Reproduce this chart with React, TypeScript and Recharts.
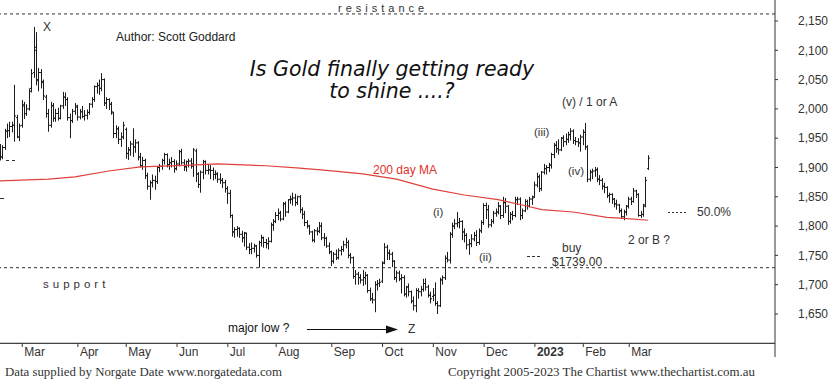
import { Bar, ComposedChart, Line, ReferenceLine, XAxis, YAxis } from 'recharts'

type Ohlc = [number, number, number, number] // open, high, low, close

// daily bars
const feb22: Ohlc[] = [
  [1935, 1940, 1912, 1918], [1918, 1938, 1914, 1934], [1934, 1966, 1930, 1962], [1962, 1975, 1950, 1963],
  [1963, 1978, 1952, 1970], [1970, 1978, 1960, 1972], [1972, 2041, 1944, 1988], [1985, 1990, 1950, 1952],
  [1952, 1975, 1945, 1971],
]
const mar22: Ohlc[] = [
  [1972, 2015, 1968, 2007], [2005, 2012, 1983, 1992], [1992, 2008, 1988, 2000], [2000, 2035, 1997, 2030],
  [2035, 2068, 2028, 2060], [2062, 2140, 2053, 2105], [2100, 2131, 2040, 2050], [2048, 2070, 2030, 2062],
  [2062, 2068, 2035, 2047], [2045, 2050, 2015, 2022], [2020, 2024, 1985, 1992], [1992, 2000, 1961, 1972],
  [1972, 2012, 1968, 2006], [2005, 2010, 1978, 1984], [1984, 2000, 1978, 1992], [1992, 2002, 1980, 1984],
  [1984, 2007, 1982, 2005], [2005, 2029, 2000, 2020], [2020, 2028, 2005, 2016], [2016, 2020, 1980, 1985],
  [1985, 1992, 1950, 1980], [1980, 2000, 1976, 1996], [1996, 2010, 1990, 2005],
]
const apr22: Ohlc[] = [
  [2003, 2007, 1980, 1986], [1986, 2000, 1982, 1995], [1995, 2005, 1984, 1987], [1987, 1998, 1980, 1989],
  [1989, 1999, 1982, 1994], [1994, 2010, 1990, 2008], [2008, 2020, 2002, 2016], [2016, 2040, 2012, 2038],
  [2038, 2045, 2026, 2040], [2040, 2050, 2024, 2035], [2035, 2061, 2030, 2050], [2050, 2052, 2005, 2010],
  [2010, 2020, 2000, 2016], [2016, 2018, 1998, 2008], [2008, 2012, 1990, 1995], [1993, 1995, 1950, 1958],
  [1958, 1972, 1950, 1966], [1966, 1970, 1940, 1948], [1948, 1960, 1935, 1952], [1952, 1978, 1948, 1972],
]
const may22: Ohlc[] = [
  [1965, 1968, 1915, 1924], [1924, 1935, 1913, 1930], [1930, 1945, 1920, 1940], [1940, 1967, 1918, 1935],
  [1935, 1948, 1925, 1942], [1942, 1945, 1912, 1918], [1918, 1925, 1900, 1903], [1903, 1918, 1896, 1912],
  [1912, 1915, 1880, 1886], [1886, 1891, 1862, 1868], [1868, 1878, 1845, 1874], [1874, 1888, 1866, 1878],
  [1878, 1886, 1862, 1876], [1876, 1902, 1872, 1900], [1900, 1906, 1892, 1902], [1902, 1915, 1896, 1912],
  [1912, 1925, 1905, 1922], [1922, 1924, 1900, 1905], [1905, 1915, 1896, 1908], [1908, 1918, 1900, 1910],
  [1910, 1914, 1891, 1898],
]
const jun22: Ohlc[] = [
  [1898, 1912, 1895, 1906], [1906, 1930, 1902, 1927], [1927, 1932, 1905, 1908], [1908, 1914, 1894, 1901],
  [1901, 1912, 1893, 1910], [1910, 1915, 1900, 1911], [1911, 1916, 1898, 1906], [1902, 1933, 1884, 1930],
  [1928, 1932, 1875, 1889], [1889, 1892, 1865, 1871], [1871, 1895, 1857, 1892], [1892, 1913, 1880, 1910],
  [1910, 1912, 1888, 1895], [1895, 1905, 1888, 1896], [1896, 1904, 1880, 1895], [1895, 1900, 1878, 1888],
  [1888, 1895, 1880, 1889], [1889, 1892, 1874, 1880], [1880, 1890, 1872, 1878], [1878, 1882, 1865, 1874],
  [1874, 1879, 1857, 1864],
]
const jul22: Ohlc[] = [
  [1864, 1868, 1838, 1856], [1856, 1862, 1814, 1818], [1818, 1820, 1782, 1790], [1790, 1798, 1780, 1794],
  [1794, 1800, 1782, 1796], [1796, 1798, 1780, 1786], [1786, 1792, 1772, 1780], [1780, 1790, 1765, 1788],
  [1788, 1789, 1759, 1764], [1764, 1771, 1752, 1760], [1760, 1772, 1752, 1762], [1762, 1770, 1755, 1766],
  [1766, 1768, 1746, 1750], [1750, 1775, 1729, 1772], [1772, 1785, 1765, 1780], [1780, 1782, 1763, 1772],
  [1772, 1778, 1762, 1770], [1770, 1781, 1760, 1774], [1774, 1806, 1772, 1802], [1802, 1812, 1792, 1808],
]
const aug22: Ohlc[] = [
  [1808, 1824, 1805, 1818], [1818, 1830, 1810, 1822], [1822, 1826, 1808, 1812], [1812, 1841, 1810, 1838],
  [1838, 1842, 1816, 1824], [1824, 1846, 1822, 1845], [1845, 1852, 1838, 1846], [1846, 1857, 1835, 1848],
  [1848, 1855, 1834, 1840], [1840, 1852, 1836, 1850], [1850, 1853, 1822, 1828], [1828, 1832, 1812, 1820],
  [1820, 1826, 1800, 1806], [1806, 1810, 1796, 1800], [1800, 1802, 1785, 1790], [1790, 1792, 1773, 1776],
  [1776, 1795, 1772, 1792], [1792, 1798, 1784, 1791], [1791, 1807, 1788, 1800], [1800, 1806, 1776, 1780],
  [1780, 1788, 1766, 1779], [1779, 1782, 1763, 1766], [1766, 1772, 1752, 1756],
]
const sep22: Ohlc[] = [
  [1756, 1758, 1732, 1740], [1740, 1756, 1736, 1752], [1752, 1760, 1742, 1746], [1746, 1762, 1743, 1758],
  [1758, 1766, 1750, 1760], [1760, 1775, 1756, 1768], [1768, 1780, 1762, 1772], [1772, 1776, 1745, 1750],
  [1750, 1754, 1736, 1746], [1746, 1748, 1710, 1714], [1714, 1725, 1700, 1718], [1718, 1722, 1700, 1712],
  [1712, 1718, 1702, 1708], [1708, 1725, 1698, 1712], [1712, 1722, 1700, 1716], [1716, 1718, 1686, 1690],
  [1690, 1695, 1672, 1676], [1676, 1686, 1668, 1674], [1674, 1706, 1653, 1700], [1700, 1708, 1690, 1702],
  [1702, 1710, 1696, 1704],
]
const oct22: Ohlc[] = [
  [1706, 1740, 1703, 1737], [1737, 1771, 1735, 1764], [1764, 1768, 1742, 1754], [1754, 1760, 1742, 1752],
  [1752, 1756, 1730, 1740], [1740, 1742, 1708, 1712], [1712, 1724, 1704, 1720], [1720, 1724, 1706, 1710],
  [1710, 1718, 1685, 1712], [1712, 1716, 1680, 1684], [1684, 1698, 1678, 1696], [1696, 1702, 1680, 1688],
  [1688, 1690, 1668, 1672], [1672, 1680, 1656, 1664], [1664, 1694, 1653, 1690], [1690, 1694, 1676, 1688],
  [1688, 1698, 1680, 1692], [1692, 1710, 1688, 1702], [1702, 1711, 1690, 1696], [1696, 1700, 1678, 1682],
  [1682, 1688, 1668, 1676],
]
const nov22: Ohlc[] = [
  [1680, 1694, 1672, 1682], [1682, 1704, 1664, 1668], [1668, 1672, 1650, 1664], [1664, 1712, 1662, 1708],
  [1708, 1716, 1700, 1712], [1712, 1750, 1708, 1745], [1745, 1756, 1738, 1742], [1742, 1790, 1736, 1786],
  [1786, 1806, 1780, 1800], [1800, 1812, 1795, 1804], [1804, 1824, 1798, 1806], [1806, 1814, 1796, 1808],
  [1808, 1810, 1776, 1790], [1790, 1796, 1772, 1784], [1784, 1788, 1760, 1768], [1768, 1778, 1751, 1770],
  [1770, 1786, 1764, 1778], [1778, 1790, 1774, 1784], [1784, 1793, 1766, 1772], [1772, 1796, 1768, 1792],
  [1792, 1810, 1788, 1806],
]
const dec22: Ohlc[] = [
  [1806, 1839, 1802, 1835], [1835, 1840, 1812, 1828], [1828, 1836, 1797, 1802], [1802, 1812, 1798, 1808],
  [1808, 1826, 1804, 1822], [1822, 1830, 1816, 1824], [1824, 1841, 1820, 1834], [1834, 1836, 1812, 1818],
  [1818, 1850, 1814, 1840], [1840, 1848, 1822, 1834], [1834, 1836, 1802, 1808], [1808, 1824, 1804, 1820],
  [1820, 1826, 1810, 1818], [1818, 1850, 1815, 1845], [1845, 1850, 1836, 1846], [1846, 1849, 1810, 1818],
  [1818, 1830, 1812, 1826], [1826, 1846, 1824, 1842], [1842, 1845, 1828, 1834], [1834, 1850, 1832, 1846],
  [1846, 1852, 1836, 1848],
]
const jan23: Ohlc[] = [
  [1850, 1876, 1848, 1870], [1870, 1891, 1866, 1884], [1884, 1888, 1858, 1864], [1864, 1894, 1860, 1892],
  [1892, 1906, 1888, 1898], [1898, 1904, 1888, 1900], [1900, 1908, 1892, 1904], [1904, 1925, 1898, 1922],
  [1922, 1942, 1916, 1938], [1938, 1945, 1925, 1932], [1932, 1948, 1922, 1930], [1930, 1952, 1928, 1950],
  [1950, 1955, 1935, 1944], [1944, 1958, 1938, 1948], [1948, 1961, 1942, 1956], [1956, 1967, 1946, 1962],
  [1962, 1965, 1940, 1946], [1946, 1952, 1938, 1944], [1944, 1950, 1935, 1942], [1942, 1956, 1927, 1952],
]
const feb23: Ohlc[] = [
  [1952, 1965, 1938, 1960], [1960, 1976, 1930, 1935], [1935, 1938, 1875, 1880], [1880, 1896, 1876, 1892],
  [1892, 1898, 1880, 1894], [1894, 1901, 1884, 1896], [1896, 1900, 1875, 1880], [1880, 1887, 1870, 1878],
  [1878, 1882, 1862, 1868], [1868, 1874, 1856, 1866], [1866, 1868, 1848, 1852], [1852, 1857, 1840, 1854],
  [1854, 1856, 1838, 1846], [1846, 1848, 1832, 1838], [1838, 1845, 1828, 1836], [1836, 1838, 1822, 1826],
  [1826, 1830, 1812, 1816], [1816, 1828, 1810, 1824], [1824, 1836, 1818, 1834],
]
const mar23: Ohlc[] = [
  [1834, 1850, 1830, 1846], [1846, 1850, 1836, 1842], [1842, 1865, 1840, 1860], [1860, 1862, 1848, 1854],
  [1854, 1856, 1816, 1818], [1818, 1826, 1814, 1820], [1820, 1838, 1816, 1834], [1836, 1884, 1832, 1878],
  [1898, 1921, 1896, 1916],
]

const monthBars = [feb22, mar22, apr22, may22, jun22, jul22, aug22, sep22, oct22, nov22, dec22, jan23, feb23, mar23]
const monthLabels = ['', 'Mar', 'Apr', 'May', 'Jun', 'Jul', 'Aug', 'Sep', 'Oct', 'Nov', 'Dec', '2023', 'Feb', 'Mar']

// 200 day MA, read at a few bars
const maBar = [0, 20, 31, 45, 58, 79, 90, 110, 124, 135, 150, 164, 179, 192, 206, 216, 224, 237, 251, 258, 268]
const maValue = [1877, 1880, 1884, 1894, 1901, 1904, 1906, 1903, 1899, 1895, 1889, 1880, 1863, 1853, 1845, 1836, 1828, 1824, 1815, 1813, 1810]

const priceTicks = [1650, 1700, 1750, 1800, 1850, 1900, 1950, 2000, 2050, 2100, 2150]
const resistance = 2162
const support = 1729
const axisFloor = 1600

const rows: any[] = []
const monthTicks: number[] = []
const tickLabel: Record<number, string> = {}
monthBars.forEach((bars, m) => {
  if (monthLabels[m]) {
    monthTicks.push(rows.length)
    tickLabel[rows.length] = monthLabels[m]
  }
  bars.forEach(([open, high, low, close]) => {
    rows.push({ i: rows.length, open, high, low, close, range: [low, high] })
  })
})
const maRows = maBar.map((i, k) => ({ i, ma: maValue[k] }))

const ink = '#1c1c1c'
const grey = '#333'
const sans = 'Arial, "Liberation Sans", sans-serif'

function OhlcBar(props: any) {
  const { x, y, width, height, payload } = props
  if (!payload || height == null) return null
  const top = Math.min(y, y + height)
  const bottom = Math.max(y, y + height)
  const span = payload.high - payload.low || 1
  const toY = (v: number) => top + ((payload.high - v) / span) * (bottom - top)
  const cx = Math.round(x + width / 2) + 0.5
  return (
    <g stroke={ink} strokeWidth={1}>
      <line x1={cx} x2={cx} y1={top} y2={bottom} />
      <line x1={cx - 1.5} x2={cx} y1={toY(payload.open)} y2={toY(payload.open)} />
      <line x1={cx} x2={cx + 1.5} y1={toY(payload.close)} y2={toY(payload.close)} />
    </g>
  )
}

function MonthTick({ x, y, payload }: any) {
  const label = tickLabel[payload.value]
  const axisY = y - 14
  return (
    <g>
      <line x1={x + 0.5} x2={x + 0.5} y1={axisY} y2={axisY + 4} stroke={grey} />
      <text x={x + 2.5} y={axisY + 12.5} fontSize={12} fill={grey} fontFamily={sans} fontWeight={label === '2023' ? 'bold' : 'normal'}>
        {label}
      </text>
    </g>
  )
}

function Notes() {
  const small = { fontSize: 11.5, fill: grey, fontFamily: sans }
  return (
    <svg width={832} height={384} style={{ position: 'absolute', left: 0, top: 0, pointerEvents: 'none' }}>
      <text x={338} y={12} {...small} fontSize={11} letterSpacing={4}>resistance</text>
      <text x={43} y={31} {...small} fontSize={12}>X</text>
      <text x={116} y={41} {...small} fontSize={12} fill="#222">Author: Scott Goddard</text>
      <g fontFamily='"DejaVu Sans", Verdana, sans-serif' fontStyle="italic" fontSize={20.5} fill="#111" textAnchor="middle">
        <text x={392} y={76}>Is Gold finally getting ready</text>
        <text x={392} y={98}>to shine ....?</text>
      </g>
      <text x={373} y={174} fontSize={12} fill="#e0302a" fontFamily={sans}>200 day MA</text>
      <text x={562} y={106} {...small} fontSize={12}>(v) / 1 or A</text>
      <text x={534} y={136} {...small}>(iii)</text>
      <text x={568} y={175} {...small}>(iv)</text>
      <text x={433} y={216} {...small}>(i)</text>
      <text x={479} y={261} {...small}>(ii)</text>
      <line x1={527} x2={540} y1={256.5} y2={256.5} stroke={grey} strokeDasharray="3 2" />
      <text x={562} y={252} {...small} fontSize={12}>buy</text>
      <text x={552} y={266} {...small} fontSize={12}>$1739.00</text>
      <text x={628} y={244} {...small} fontSize={12}>2 or B ?</text>
      <line x1={668} x2={687} y1={212.5} y2={212.5} stroke={grey} strokeDasharray="2 2" />
      <text x={697} y={216} {...small} fontSize={12}>50.0%</text>
      <text x={43} y={288} {...small} letterSpacing={4}>support</text>
      <text x={228} y={332} {...small} fontSize={12} fill="#111">major low ?</text>
      <line x1={307} x2={390} y1={329.5} y2={329.5} stroke="#111" />
      <path d="M386 325.5 L398 329.5 L386 333.5 Z" fill="#111" />
      <text x={408} y={333} {...small} fontSize={12}>Z</text>
      <line x1={6} x2={16} y1={160.5} y2={160.5} stroke={grey} strokeDasharray="3 3" />
      <line x1={0} x2={4} y1={198.5} y2={198.5} stroke={grey} />
      <g fontFamily='"Liberation Serif", "DejaVu Serif", serif' fontSize={12.5} fill="#333">
        <text x={5} y={376} textLength={277} lengthAdjust="spacingAndGlyphs">Data supplied by Norgate Date www.norgatedata.com</text>
        <text x={448} y={376} textLength={307} lengthAdjust="spacingAndGlyphs">Copyright 2005-2023 The Chartist www.thechartist.com.au</text>
      </g>
    </svg>
  )
}

export default function App() {
  return (
    <div style={{ position: 'absolute', left: 0, top: 0, width: 832, height: 384, background: '#fff', overflow: 'hidden', fontFamily: sans }}>
      <ComposedChart width={832} height={384} data={rows} margin={{ top: 0, right: 0, bottom: 0, left: 0 }}>
        <XAxis
          type="number"
          dataKey="i"
          domain={[0, 320.5]}
          allowDataOverflow
          ticks={monthTicks}
          interval={0}
          tick={<MonthTick />}
          tickSize={0}
          tickMargin={0}
          axisLine={false}
          tickLine={false}
          height={27}
        />
        <YAxis
          orientation="right"
          domain={[1576.6, 2185.8]}
          allowDataOverflow
          ticks={priceTicks}
          interval={0}
          width={57}
          tickSize={3}
          tickMargin={20}
          stroke={grey}
          tick={{ fontSize: 12, fill: grey, fontFamily: sans }}
          tickFormatter={(v: number) => v.toLocaleString('en-US')}
        />
        <ReferenceLine y={resistance} stroke={grey} strokeDasharray="3 3" />
        <ReferenceLine y={support} stroke={grey} strokeDasharray="3 3" />
        <ReferenceLine y={axisFloor} stroke="#111" />
        <Line data={maRows} dataKey="ma" dot={false} activeDot={false} stroke="#e0403a" strokeWidth={1.2} isAnimationActive={false} />
        <Bar dataKey="range" barSize={2} shape={<OhlcBar />} isAnimationActive={false} />
      </ComposedChart>
      <Notes />
    </div>
  )
}
